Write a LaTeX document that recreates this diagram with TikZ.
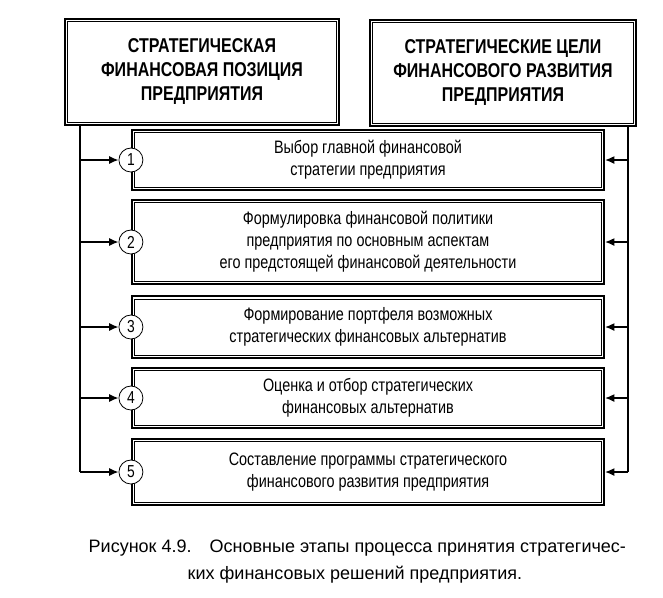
\documentclass[tikz,border=0pt]{standalone}
\usepackage{fontspec}
\setmainfont{Liberation Sans}[FakeStretch=0.8]
\newfontfamily\capfont{Liberation Sans}
\usetikzlibrary{arrows.meta}
\tikzset{
  dbox/.style={draw, line width=1.6pt, inner sep=0pt, align=center},
  headbox/.style={dbox, minimum height=80pt, font=\bfseries\fontsize{15}{18}\selectfont},
  stepbox/.style={dbox, minimum width=354pt, font=\fontsize{13.5}{16.5}\selectfont},
  num/.style={circle, draw, fill=white, line width=0.6pt, inner sep=0pt, minimum size=18pt, font=\fontsize{13}{13}\selectfont},
  arr/.style={line width=1pt, -{Latex[length=7pt,width=6pt]}}
}
\begin{document}
\begin{tikzpicture}[x=0.75pt, y=-0.75pt]
\useasboundingbox (0,0) rectangle (663,597);

% Top boxes
\node[headbox, minimum width=206pt] (pos) at (202,72) {СТРАТЕГИЧЕСКАЯ\\ФИНАНСОВАЯ ПОЗИЦИЯ\\ПРЕДПРИЯТИЯ};
\node[headbox, minimum width=200pt] (goal) at (503,73) {СТРАТЕГИЧЕСКИЕ ЦЕЛИ\\ФИНАНСОВОГО РАЗВИТИЯ\\ПРЕДПРИЯТИЯ};

% Steps
\node[stepbox, minimum height=45pt] (s1) at (368,160) {Выбор главной финансовой\\стратегии предприятия};
\node[stepbox, minimum height=63pt] (s2) at (368,242) {Формулировка финансовой политики\\предприятия по основным аспектам\\его предстоящей финансовой деятельности};
\node[stepbox, minimum height=46pt] (s3) at (368,327) {Формирование портфеля возможных\\стратегических финансовых альтернатив};
\node[stepbox, minimum height=45pt] (s4) at (368,398) {Оценка и отбор стратегических\\финансовых альтернатив};
\node[stepbox, minimum height=50pt] (s5) at (368,472) {Составление программы стратегического\\финансового развития предприятия};

% Inner frames
\foreach \b in {pos,goal,s1,s2,s3,s4,s5}
  \draw[line width=0.6pt] ([shift={(2.8pt,2.8pt)}]\b.south west) rectangle ([shift={(-2.8pt,-2.8pt)}]\b.north east);

% Side lines
\coordinate (lt) at (80,125);
\coordinate (lb) at (80,472);
\coordinate (rt) at (628,127);
\coordinate (rb) at (628,472);
\draw[line width=1pt] (lt) -- (lb);
\draw[line width=1pt] (rt) -- (rb);

\foreach \s/\n in {s1/1,s2/2,s3/3,s4/4,s5/5}{
  \node[num] (c\n) at (\s.west) {\n};
  \draw[arr] (80,0 |- \s.west) -- (c\n.west);
  \draw[arr] (628,0 |- \s.east) -- (\s.east);
}

% Caption
\node[anchor=west, font=\capfont\fontsize{13.5}{17}\selectfont] (cap1) at (84,548) {Рисунок 4.9.\quad Основные этапы процесса принятия стратегичес-};
\node[anchor=west, font=\capfont\fontsize{13.5}{17}\selectfont] (cap2) at (183,575) {ких финансовых решений предприятия.};
\end{tikzpicture}
\end{document}
